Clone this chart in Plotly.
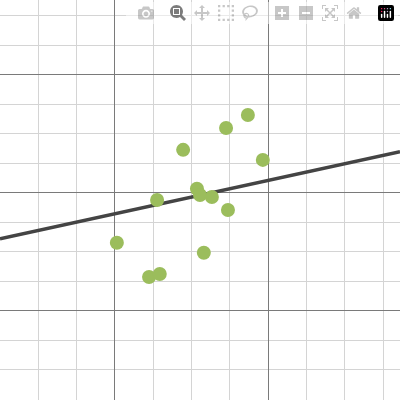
import plotly.graph_objects as go

# scatter points (grid units)
xs = [0.05, 0.89, 1.17, 1.10, 1.78, 2.14, 2.22, 2.53, 2.32, 2.95, 2.90, 3.47, 3.86]
ys = [-1.69, -2.85, -2.75, -0.24, 1.46, 0.14, -0.07, -0.14, -2.03, -0.58, 2.20, 2.64, 1.12]

# fitted line
slope = 0.283
intercept = -0.71
line_x = [-3.0, 7.44]
line_y = [intercept + slope * v for v in line_x]

fig = go.Figure()
fig.add_trace(go.Scatter(x=line_x, y=line_y, mode="lines",
                         line=dict(color="#444444", width=3.5), showlegend=False))
fig.add_trace(go.Scatter(x=xs, y=ys, mode="markers",
                         marker=dict(color="#9bbd5c", size=14), showlegend=False))

axis_common = dict(showticklabels=False, zeroline=False, ticks="",
                   gridcolor="#7a7a7a", gridwidth=1,
                   minor=dict(dtick=1, showgrid=True, gridcolor="#d4d4d4", gridwidth=1),
                   tick0=0, dtick=4)
fig.update_xaxes(range=[-3.0, 7.44], **axis_common)
fig.update_yaxes(range=[-7.02, 6.54], **axis_common)
fig.update_layout(width=400, height=400, margin=dict(l=0, r=0, t=0, b=0),
                  plot_bgcolor="white", paper_bgcolor="white")
fig.write_html("out.html",
               post_script="document.body.style.margin='0';document.body.style.overflow='hidden';")
